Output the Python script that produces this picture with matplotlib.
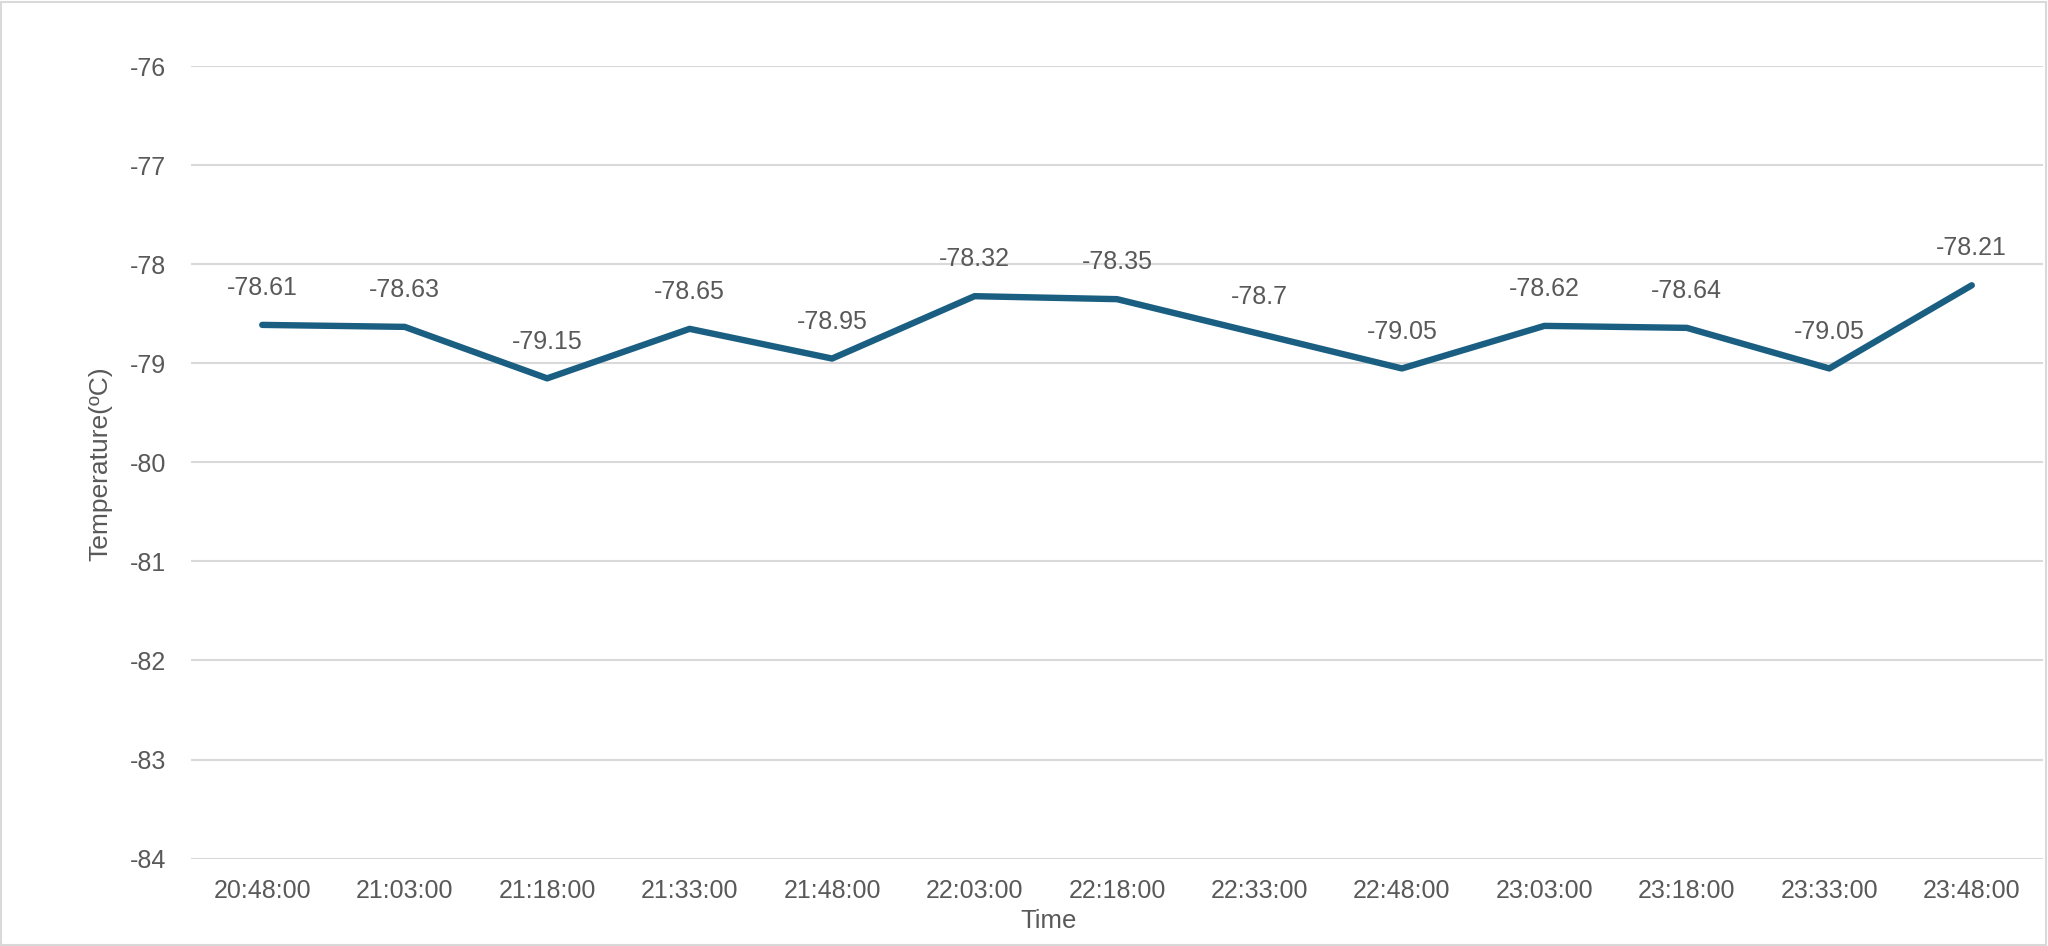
import matplotlib
matplotlib.use("Agg")
import matplotlib.pyplot as plt
from matplotlib.patches import Rectangle

times = ["20:48:00", "21:03:00", "21:18:00", "21:33:00", "21:48:00", "22:03:00",
         "22:18:00", "22:33:00", "22:48:00", "23:03:00", "23:18:00", "23:33:00", "23:48:00"]
temps = [-78.61, -78.63, -79.15, -78.65, -78.95, -78.32, -78.35, -78.7, -79.05,
         -78.62, -78.64, -79.05, -78.21]
yticks = [-76, -77, -78, -79, -80, -81, -82, -83, -84]

plt.rcParams['font.family'] = ['Liberation Sans', 'DejaVu Sans']
TXT = '#595959'
LINE = '#1A5F82'
GRID = '#D9D9D9'

W, H = 2048, 946
fig = plt.figure(figsize=(W / 100, H / 100), dpi=100)
fig.patch.set_facecolor('white')

left, right, top, bottom = 191, 2043, 66.5, 858.5
ax = fig.add_axes([left / W, 1 - bottom / H, (right - left) / W, (bottom - top) / H])

x = list(range(len(times)))
ax.plot(x, temps, color=LINE, lw=4.6, solid_capstyle='round', solid_joinstyle='round', zorder=3)
for xi, v in zip(x, temps):
    ax.annotate(f"{v:g}", (xi, v), xytext=(0, 26.5), textcoords='offset points',
                ha='center', va='center', fontsize=18, color=TXT)

ax.set_xlim(-0.5, len(times) - 0.5)
ax.set_ylim(-84, -76)
ax.set_yticks(yticks)
ax.set_yticklabels([str(t) for t in yticks])
ax.set_xticks(x)
ax.set_xticklabels(times)
ax.tick_params(axis='both', length=0, labelsize=18, labelcolor=TXT)
ax.tick_params(axis='x', pad=14.5)
ax.tick_params(axis='y', pad=18)
ax.grid(axis='y', color=GRID, lw=1.5, zorder=0)
ax.set_axisbelow(True)
for s in ax.spines.values():
    s.set_visible(False)

fig.text(1049 / W, 1 - 921 / H, "Time", ha='center', va='center', fontsize=18.5, color=TXT)
fig.text(100 / W, 1 - 464 / H, "Temperature(ºC)", ha='center', va='center',
         rotation=90, fontsize=19, color=TXT)

fig.patches.append(Rectangle((1 / W, 1 / H), (W - 3) / W, (H - 3) / H, transform=fig.transFigure,
                             fill=False, edgecolor=GRID, lw=1.5))

fig.savefig("out.png", dpi=100, facecolor='white')
